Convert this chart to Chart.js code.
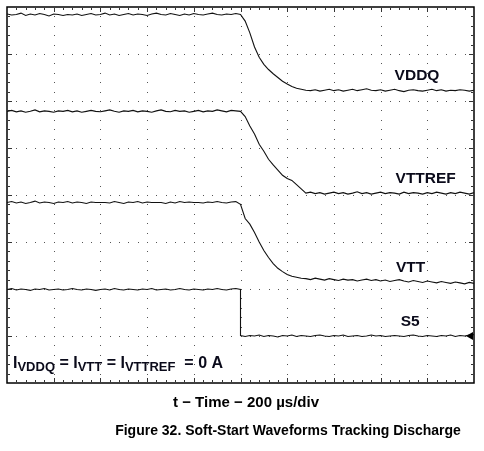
<!DOCTYPE html>
<html>
<head>
<meta charset="utf-8">
<script src="https://cdn.jsdelivr.net/npm/chart.js@4"></script>
<style>
  body { margin: 0; background: #fff; }
  #wrap { width: 484px; height: 451px; position: relative; }
</style>
</head>
<body>
<div id="wrap"><canvas id="scopeChart" width="484" height="451"></canvas></div>
<script>
// time axis in divisions (200 us/div), one sample every 0.1 div
const timeDiv = Array.from({ length: 101 }, (_, i) => i / 10);

// trace levels in screen divisions (0 = bottom of graticule, 8 = top)
const vddq = [
    7.85,7.83,7.84,7.87,7.82,7.85,7.83,7.86,7.84,7.81,
    7.85,7.84,7.82,7.84,7.83,7.85,7.82,7.84,7.86,7.83,
    7.84,7.87,7.83,7.85,7.82,7.84,7.86,7.83,7.85,7.84,
    7.82,7.85,7.87,7.84,7.83,7.86,7.84,7.82,7.85,7.83,
    7.86,7.84,7.83,7.85,7.87,7.84,7.83,7.85,7.84,7.86,
    7.84,7.70,7.45,7.15,6.93,6.78,6.67,6.58,6.50,6.42,
    6.36,6.31,6.27,6.25,6.23,
    6.22,6.24,6.21,6.23,6.25,6.22,6.24,6.21,6.23,6.25,
    6.22,6.24,6.26,6.23,6.22,6.24,6.21,6.23,6.25,6.22,
    6.20,6.23,6.24,6.22,6.21,6.23,6.25,6.22,6.24,6.21,
    6.23,6.22,6.24,6.23,6.21,6.23
];
const vttref = [
    5.78,5.80,5.77,5.79,5.76,5.78,5.81,5.77,5.79,5.78,
    5.76,5.79,5.78,5.80,5.77,5.79,5.76,5.78,5.80,5.78,
    5.77,5.79,5.81,5.78,5.76,5.79,5.78,5.80,5.77,5.79,
    5.78,5.76,5.79,5.81,5.78,5.77,5.80,5.78,5.79,5.76,
    5.78,5.80,5.77,5.79,5.78,5.81,5.79,5.77,5.80,5.79,
    5.78,5.67,5.47,5.30,5.08,4.93,4.76,4.64,4.53,4.42,
    4.35,4.31,4.22,4.13,4.04,
    4.06,4.03,4.05,4.02,4.04,4.06,4.03,4.05,4.02,4.04,
    4.07,4.03,4.05,4.02,4.04,4.06,4.03,4.05,4.04,4.02,
    4.06,4.03,4.05,4.04,4.02,4.05,4.03,4.06,4.04,4.02,
    4.05,4.03,4.06,4.04,4.02,4.05
];
const vtt = [
    3.84,3.86,3.83,3.85,3.82,3.84,3.87,3.83,3.85,3.84,
    3.82,3.85,3.84,3.86,3.83,3.85,3.84,3.82,3.85,3.84,
    3.84,3.84,3.83,3.86,3.84,3.82,3.85,3.84,3.86,3.83,
    3.85,3.84,3.84,3.84,3.82,3.85,3.83,3.86,3.84,3.85,
    3.84,3.84,3.83,3.85,3.84,3.86,3.84,3.83,3.85,3.86,
    3.80,3.50,3.38,3.20,3.00,2.82,2.67,2.54,2.44,2.37,
    2.31,2.27,2.25,2.23,
    2.22,2.20,2.23,2.21,2.19,2.22,2.20,2.18,2.21,2.19,
    2.20,2.17,2.19,2.21,2.18,2.20,2.17,2.19,2.16,2.18,
    2.20,2.17,2.15,2.18,2.16,2.14,2.17,2.15,2.13,2.16,
    2.14,2.12,2.15,2.13,2.11,2.14,2.12
];
// S5 has two samples at 5.0 div (the edge is vertical)
const s5Time = [...timeDiv.slice(0, 51), ...timeDiv.slice(50)];
const s5 = [
    1.99,2.01,1.98,2.00,1.99,1.97,2.00,1.99,2.01,1.98,
    1.99,2.00,1.98,1.99,2.01,1.99,1.98,2.00,1.99,1.97,
    1.99,2.00,1.98,2.01,1.99,1.98,2.00,1.99,1.98,2.00,
    1.99,2.01,1.98,1.99,2.00,1.98,1.99,2.01,1.99,1.98,
    2.00,1.99,1.98,2.00,1.99,2.01,1.99,1.98,2.00,2.01,1.99,
    1.01,0.99,1.01,1.00,1.02,0.99,1.01,1.00,0.98,1.01,
    1.00,1.02,0.99,1.01,1.00,0.99,1.01,1.02,1.00,0.99,
    1.01,1.00,1.02,0.99,1.00,1.01,0.99,1.00,1.02,1.00,
    1.01,0.99,1.00,1.01,1.00,0.99,1.01,1.02,1.00,0.99,
    1.01,1.00,0.99,1.01,1.00,1.02,0.99,1.01,1.00,1.02,1.03
];

const traceNames = ['VDDQ', 'VTTREF', 'VTT', 'S5'];
// label anchor (time div, level div) for each trace name
const labelX = [8.3, 8.32, 8.33, 8.43];
const labelY = [6.45, 4.26, 2.36, 1.21];
const s5Ground = 1.0;

const TEXT = '#0a0a1a';
const FONT = '"Liberation Sans", Arial, sans-serif';

function toPoints(xs, ys) {
    return xs.map((x, i) => ({ x: x, y: ys[i] }));
}

// graticule: dotted grid every 1/5 div, ticks on the frame
const graticule = {
    id: 'graticule',
    beforeDatasetsDraw(chart) {
        const { ctx, chartArea: a, scales: { x, y } } = chart;
        ctx.save();
        ctx.fillStyle = '#555';
        for (let i = 1; i < 10; i++) {
            const px = Math.round(x.getPixelForValue(i));
            for (let j = 1; j < 40; j++) {
                const py = Math.round(y.getPixelForValue(j / 5));
                ctx.fillRect(px, py, 1, 1);
            }
        }
        for (let i = 1; i < 8; i++) {
            const py = Math.round(y.getPixelForValue(i));
            for (let j = 1; j < 50; j++) {
                const px = Math.round(x.getPixelForValue(j / 5));
                ctx.fillRect(px, py, 1, 1);
            }
        }
        // frame ticks
        ctx.fillStyle = '#333';
        for (let j = 1; j < 50; j++) {
            const px = Math.round(x.getPixelForValue(j / 5));
            const len = j % 5 === 0 ? 4 : 2;
            ctx.fillRect(px, a.top + 1, 1, len);
            ctx.fillRect(px, a.bottom - 1 - len, 1, len);
        }
        for (let j = 1; j < 40; j++) {
            const py = Math.round(y.getPixelForValue(j / 5));
            const len = j % 5 === 0 ? 4 : 2;
            ctx.fillRect(a.left + 1, py, len, 1);
            ctx.fillRect(a.right - 1 - len, py, len, 1);
        }
        ctx.strokeStyle = '#000';
        ctx.lineWidth = 1.5;
        ctx.strokeRect(a.left, a.top, a.right - a.left, a.bottom - a.top);
        ctx.restore();
    },
    afterDraw(chart) {
        const { ctx, chartArea: a, scales: { x, y } } = chart;
        ctx.save();
        ctx.fillStyle = TEXT;
        ctx.textBaseline = 'alphabetic';
        ctx.textAlign = 'left';
        ctx.font = 'bold 15.5px ' + FONT;
        traceNames.forEach((name, i) => {
            ctx.fillText(name, x.getPixelForValue(labelX[i]), y.getPixelForValue(labelY[i]));
        });

        // ground marker of S5
        const gy = y.getPixelForValue(s5Ground);
        ctx.fillStyle = '#000';
        ctx.beginPath();
        ctx.moveTo(a.right - 8, gy);
        ctx.lineTo(a.right - 1, gy - 4);
        ctx.lineTo(a.right - 1, gy + 4);
        ctx.closePath();
        ctx.fill();

        // I_VDDQ = I_VTT = I_VTTREF = 0 A
        const parts = [
            ['I', false], ['VDDQ', true], [' = ', false], ['I', false], ['VTT', true],
            [' = ', false], ['I', false], ['VTTREF', true], ['  = 0 A', false]
        ];
        let cx = 13;
        const base = 368;
        ctx.fillStyle = TEXT;
        parts.forEach(([t, sub]) => {
            ctx.font = (sub ? 'bold 13px ' : 'bold 16px ') + FONT;
            ctx.fillText(t, cx, sub ? base + 3 : base);
            cx += ctx.measureText(t).width;
        });

        ctx.fillStyle = '#000';
        ctx.textAlign = 'center';
        ctx.font = 'bold 15px ' + FONT;
        ctx.fillText('t \u2212 Time \u2212 200 \u00b5s/div', 246, 407);
        ctx.font = 'bold 14px ' + FONT;
        ctx.fillText('Figure 32. Soft-Start Waveforms Tracking Discharge', 288, 435);
        ctx.restore();
    }
};

const traceStyle = {
    borderColor: '#111',
    borderWidth: 1.1,
    pointRadius: 0,
    tension: 0,
    fill: false
};

new Chart(document.getElementById('scopeChart'), {
    type: 'line',
    data: {
        datasets: [
            { label: 'VDDQ', data: toPoints(timeDiv, vddq), ...traceStyle },
            { label: 'VTTREF', data: toPoints(timeDiv, vttref), ...traceStyle },
            { label: 'VTT', data: toPoints(timeDiv, vtt), ...traceStyle },
            { label: 'S5', data: toPoints(s5Time, s5), ...traceStyle }
        ]
    },
    options: {
        responsive: false,
        devicePixelRatio: 1,
        animation: false,
        layout: { padding: { left: 7, top: 7, right: 10, bottom: 68 } },
        scales: {
            x: { type: 'linear', min: 0, max: 10, display: false },
            y: { type: 'linear', min: 0, max: 8, display: false }
        },
        plugins: {
            legend: { display: false },
            tooltip: { enabled: false }
        }
    },
    plugins: [graticule]
});
</script>
</body>
</html>
